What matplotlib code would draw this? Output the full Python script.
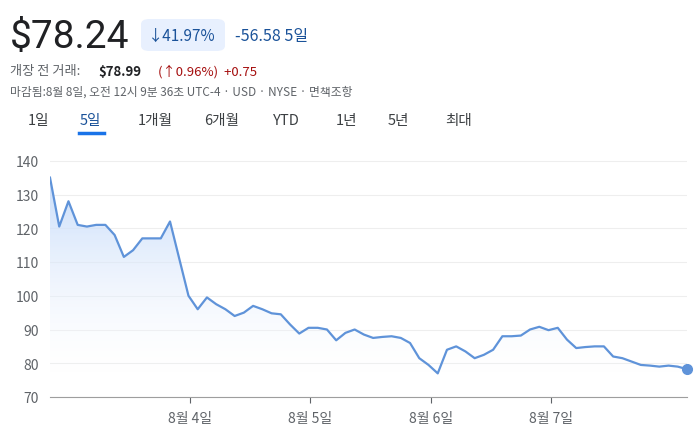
import matplotlib
matplotlib.use("Agg")
import matplotlib.pyplot as plt
import numpy as np
from matplotlib.patches import FancyBboxPatch

plt.rcParams["font.family"] = "Noto Sans CJK KR"

# price points over 5 days
prices = [135, 120.5, 128, 121, 120.5, 121, 121, 118, 111.5, 113.5,
          117, 117, 117, 122, 111, 100, 96, 99.5, 97.5, 96,
          94, 95, 97, 96, 94.8, 94.5, 91.5, 88.8, 90.5, 90.5,
          90, 86.8, 89, 90, 88.5, 87.5, 87.8, 88, 87.5, 86,
          81.5, 79.5, 77, 84, 85, 83.5, 81.5, 82.5, 84, 88,
          88, 88.2, 90, 90.8, 89.8, 90.5, 87, 84.5, 84.8, 85,
          85, 82, 81.5, 80.5, 79.5, 79.3, 79, 79.3, 79, 78.24]
day_ticks = [15.2, 28.2, 41.3, 54.3]
day_labels = ["8월 4일", "8월 5일", "8월 6일", "8월 7일"]
y_ticks = [70, 80, 90, 100, 110, 120, 130, 140]
tabs = ["1일", "5일", "1개월", "6개월", "YTD", "1년", "5년", "최대"]

line_c = "#5f93d9"
fig = plt.figure(figsize=(7, 4.39), dpi=100)
ax = fig.add_axes([50/700, 1-398/439, 637/700, (398-155)/439])
x = np.arange(len(prices))
ax.plot(x, prices, color=line_c, lw=1.6, zorder=3)
ax.plot(x[-1], prices[-1], "o", color=line_c, ms=7, zorder=4, clip_on=False)

# gradient fill under line
grad = np.linspace(0, 1, 256).reshape(-1, 1) ** 0.8
img = ax.imshow(grad, extent=[0, x[-1], 77, 140], origin="lower", aspect="auto",
                cmap=matplotlib.colors.LinearSegmentedColormap.from_list(
                    "g", [(1, 1, 1, 0), (0.76, 0.85, 0.98, 1)]), zorder=1)
poly = ax.fill_between(x, prices, 70, color="none")
path = poly.get_paths()[0]
img.set_clip_path(path, transform=ax.transData)

ax.set_xlim(0, x[-1])
ax.set_ylim(70, 142)
ax.set_yticks(y_ticks)
ax.set_xticks(day_ticks, day_labels)
ax.grid(axis="y", color="#eeeeee", lw=0.8)
for s in ["top", "right", "left"]:
    ax.spines[s].set_visible(False)
ax.spines["bottom"].set_color("#9e9e9e")
ax.tick_params(axis="y", length=0, labelsize=10, colors="#5f6368", pad=8)
ax.tick_params(axis="x", length=4, color="#5f6368", labelsize=10, labelcolor="#5f6368", pad=6)
ax.set_axisbelow(True)

# header texts
fig.text(10/700, 1-37/439, "$78.24", fontsize=28, color="#202124", va="center", family="Roboto")
fig.patches.append(FancyBboxPatch((141/700, 1-52/439), 84/700, 32/439,
                                  boxstyle="round,pad=0,rounding_size=0.012",
                                  transform=fig.transFigure, fc="#e8f0fe", ec="none"))
fig.text(148/700, 1-36/439, "↓41.97%", fontsize=11, color="#1a5299", va="center")
fig.text(235/700, 1-36/439, "-56.58 5일", fontsize=11.5, color="#1a5299", va="center")
fig.text(10/700, 1-72/439, "개장 전 거래:", fontsize=9.5, color="#5f6368", va="center")
fig.text(98/700, 1-72/439, "$78.99", fontsize=9.5, color="#202124", va="center", weight="bold")
fig.text(158/700, 1-72/439, "(↑0.96%)  +0.75", fontsize=9.5, color="#a50e0e", va="center")
fig.text(10/700, 1-92/439, "마감됨:8월 8일, 오전 12시 9분 36초 UTC-4 · USD · NYSE · 면책조항",
         fontsize=8.5, color="#5f6368", va="center")
tab_x = [28, 80, 138, 204, 273, 336, 388, 445]
for t, tx in zip(tabs, tab_x):
    fig.text(tx/700, 1-121/439, t, fontsize=10.5, va="center",
             color="#1a5299" if t == "5일" else "#3c4043")
fig.lines.append(plt.Line2D([79/700, 104/700], [1-134/439, 1-134/439],
                            transform=fig.transFigure, color="#1a73e8", lw=2.5))

fig.savefig("out.png", dpi=100)
